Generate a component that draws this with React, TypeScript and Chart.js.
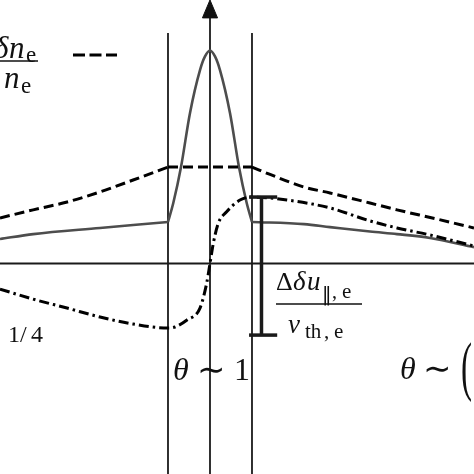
import { useEffect, useRef } from 'react'
import { Chart, registerables } from 'chart.js'

Chart.register(...registerables)

// x in units of the inner region (vertical guides at -1 and 1), y normalised to the peak
const X_MIN = -5
const X_MAX = 6.286
const Y_MIN = -0.988
const Y_MAX = 1.237

// solid grey curve
const solidLeftX = [-5, -4.21, -2.62, -1.83, -1]
const solidLeftY = [0.115, 0.138, 0.167, 0.181, 0.195]
const solidPeakX = [-1, -0.874, -0.69, -0.476, -0.238, -0.119, 0, 0.119, 0.238, 0.476, 0.69, 0.874, 1]
const solidPeakY = [0.195, 0.284, 0.453, 0.707, 0.908, 0.972, 1.0, 0.972, 0.908, 0.707, 0.453, 0.284, 0.195]
const solidRightX = [1, 2.24, 2.857, 3.81, 4.452, 5.238, 6.286]
const solidRightY = [0.195, 0.185, 0.171, 0.15, 0.138, 0.12, 0.077]

// dashed curve (density)
const denLeftX = [-5, -4.21, -3.4, -2.62, -1.83, -1]
const denLeftY = [0.214, 0.252, 0.289, 0.336, 0.392, 0.453]
const denFlatX = [-1, 1]
const denFlatY = [0.453, 0.453]
const denRightX = [1, 1.43, 2.24, 2.857, 3.81, 4.452, 5.4, 6.286]
const denRightY = [0.453, 0.418, 0.359, 0.331, 0.284, 0.252, 0.209, 0.167]

// dash-dot curve (parallel velocity)
const velX = [-5, -4.214, -3.405, -2.619, -1.833, -1, -0.833, -0.548, -0.238, -0.079, 0, 0.079, 0.198, 0.397, 0.714, 1, 1.833, 2.857, 3.81, 4.452, 5.238, 6.286]
const velY = [-0.12, -0.167, -0.209, -0.251, -0.284, -0.303, -0.298, -0.265, -0.209, -0.092, 0, 0.095, 0.189, 0.243, 0.298, 0.312, 0.298, 0.261, 0.2, 0.167, 0.134, 0.082]

// error bar marking the velocity jump
const barX = 1.226
const barTop = 0.312
const barBottom = -0.336
const capLeft = 0.93
const capRight = 1.6

// frame: guides and axes
const guideX = [-1, 1]
const guideTop = 1.082
const arrowBase = 1.153
const arrowHalf = 0.18

// legend sample for the dashed line
const legendX = [-3.262, -2.214]
const legendY = 0.979

const pts = (xs: number[], ys: number[]) => xs.map((x, i) => ({ x, y: ys[i] }))

const SERIF = '"Liberation Serif", "DejaVu Serif", serif'
const SYM = '"DejaVu Sans", sans-serif'

const labelPlugin = {
  id: 'mathLabels',
  afterDraw(chart: Chart) {
    const ctx = chart.ctx
    ctx.save()
    ctx.fillStyle = '#111'
    ctx.strokeStyle = '#111'
    ctx.textBaseline = 'alphabetic'
    const put = (t: string, x: number, y: number, size: number, italic = false, family = SERIF) => {
      ctx.font = `${italic ? 'italic ' : ''}${size}px ${family}`
      ctx.fillText(t, x, y)
    }
    const rule = (x1: number, x2: number, y: number) => {
      ctx.lineWidth = 1.5
      ctx.beginPath()
      ctx.moveTo(x1, y)
      ctx.lineTo(x2, y)
      ctx.stroke()
    }

    // delta n_e / n_e
    put('δ', -6, 58, 31, true)
    put('n', 9, 58, 31, true)
    put('e', 26, 62, 23)
    rule(0, 38, 61)
    put('n', 4, 88, 31, true)
    put('e', 21, 93, 23)

    // Delta delta u_{||,e} / v_{th,e}
    put('Δ', 276, 290, 26)
    put('δ', 293, 290, 27, true)
    put('u', 307, 290, 27, true)
    put('‖', 322, 301, 19, false, SYM)
    put(',', 332, 298, 20)
    put('e', 342, 298, 21)
    rule(276, 362, 304)
    put('v', 288, 333, 27, true)
    put('th', 305, 338, 21)
    put(',', 324, 338, 21)
    put('e', 334, 338, 21)

    // exponent 1/4
    put('1', 8, 342, 24)
    put('/', 20, 342, 24)
    put('4', 31, 342, 24)

    // theta ~ 1
    put('θ', 173, 380, 32, true)
    put('∼', 197, 381, 34, false, SYM)
    put('1', 234, 380, 32)

    // theta ~ (
    put('θ', 400, 379, 32, true)
    put('∼', 423, 380, 34, false, SYM)
    ctx.save()
    ctx.translate(461, 388)
    ctx.scale(1, 2)
    ctx.font = `33px ${SERIF}`
    ctx.fillText('(', 0, 0)
    ctx.restore()

    ctx.restore()
  },
}

export default function App() {
  const chartRef = useRef<HTMLCanvasElement>(null)
  const chartInstance = useRef<Chart | null>(null)

  useEffect(() => {
    if (!chartRef.current) return
    const ctx = chartRef.current.getContext('2d')
    if (!ctx) return
    if (chartInstance.current) chartInstance.current.destroy()

    const frame = (data: { x: number; y: number }[], width = 1.8) => ({
      data,
      borderColor: '#1a1a1a',
      borderWidth: width,
      pointRadius: 0,
      tension: 0,
      order: 10,
    })
    const grey = (data: { x: number; y: number }[]) => ({
      data,
      borderColor: '#4d4d4d',
      borderWidth: 2.6,
      pointRadius: 0,
      cubicInterpolationMode: 'monotone' as const,
      order: 2,
    })
    const dashed = (data: { x: number; y: number }[]) => ({
      data,
      borderColor: '#000',
      borderWidth: 3,
      borderDash: [10, 5],
      pointRadius: 0,
      cubicInterpolationMode: 'monotone' as const,
      order: 1,
    })

    chartInstance.current = new Chart(ctx, {
      type: 'line',
      data: {
        datasets: [
          frame(pts([X_MIN, X_MAX], [0, 0])),
          frame(pts([0, 0], [Y_MIN, arrowBase])),
          frame(pts([guideX[0], guideX[0]], [Y_MIN, guideTop])),
          frame(pts([guideX[1], guideX[1]], [Y_MIN, guideTop])),
          {
            data: pts([-arrowHalf, 0, arrowHalf, -arrowHalf], [arrowBase, Y_MAX, arrowBase, arrowBase]),
            borderColor: '#111',
            backgroundColor: '#111',
            borderWidth: 1,
            pointRadius: 0,
            tension: 0,
            fill: 'shape',
            order: 9,
          },
          grey(pts(solidLeftX, solidLeftY)),
          grey(pts(solidPeakX, solidPeakY)),
          grey(pts(solidRightX, solidRightY)),
          dashed(pts(denLeftX, denLeftY)),
          dashed(pts(denFlatX, denFlatY)),
          dashed(pts(denRightX, denRightY)),
          {
            ...dashed(pts(legendX, [legendY, legendY])),
            borderDash: [12, 4.5],
          },
          {
            data: pts(velX, velY),
            borderColor: '#000',
            borderWidth: 3,
            borderDash: [10, 4, 2.5, 4],
            pointRadius: 0,
            cubicInterpolationMode: 'monotone' as const,
            order: 1,
          },
          { ...frame(pts([barX, barX], [barTop, barBottom]), 3.5), order: 0 },
          { ...frame(pts([capLeft, capRight], [barTop, barTop]), 3.5), order: 0 },
          { ...frame(pts([capLeft, capRight], [barBottom, barBottom]), 3.5), order: 0 },
        ],
      },
      options: {
        animation: false,
        responsive: false,
        parsing: false,
        layout: { padding: 0 },
        plugins: {
          legend: { display: false },
          tooltip: { enabled: false },
        },
        scales: {
          x: { type: 'linear', min: X_MIN, max: X_MAX, display: false },
          y: { type: 'linear', min: Y_MIN, max: Y_MAX, display: false },
        },
      },
      plugins: [labelPlugin],
    })

    return () => {
      if (chartInstance.current) {
        chartInstance.current.destroy()
        chartInstance.current = null
      }
    }
  }, [])

  return (
    <div style={{ position: 'fixed', left: 0, top: 0, width: 474, height: 474, background: '#fff' }}>
      <canvas ref={chartRef} width={474} height={474} />
    </div>
  )
}
